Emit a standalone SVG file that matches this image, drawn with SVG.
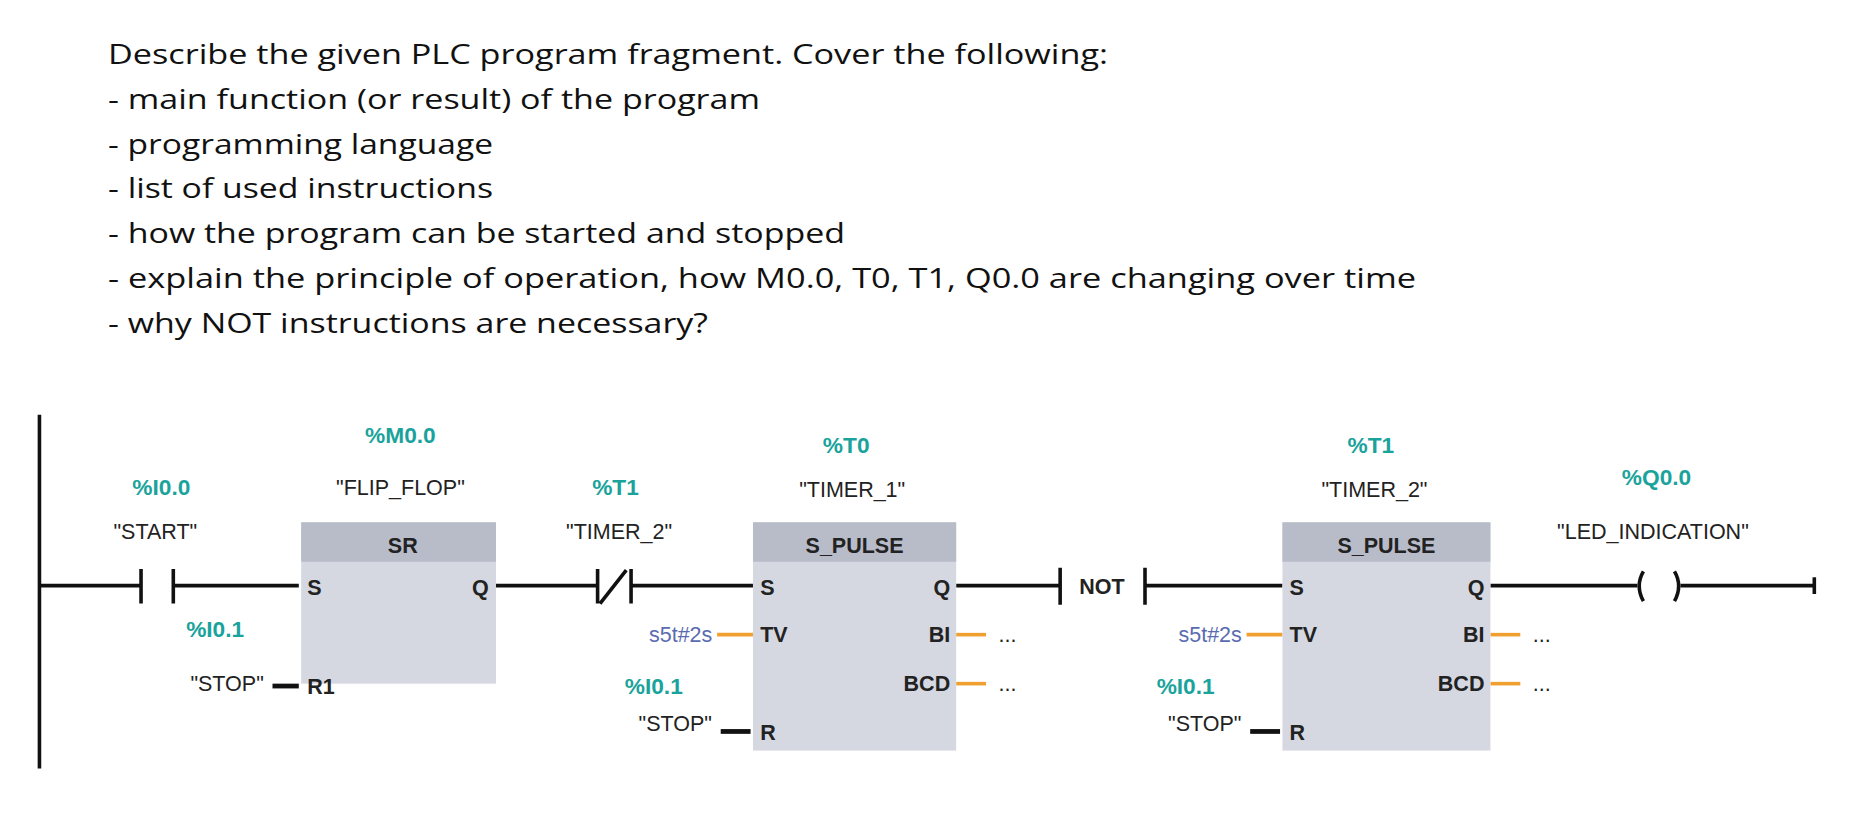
<svg xmlns="http://www.w3.org/2000/svg" width="1874" height="814" viewBox="0 0 1874 814">
<style>
.q{font-family:"Open Sans","Liberation Sans",sans-serif;font-size:27px;fill:#111}
.t{font-family:"Liberation Sans",sans-serif;font-size:19px;fill:#1aa39c;font-weight:bold;text-anchor:middle}
.n{font-family:"Liberation Sans",sans-serif;font-size:18px;fill:#222;text-anchor:middle}
.p{font-family:"Liberation Sans",sans-serif;font-size:18px;fill:#222;font-weight:bold}
.v{font-family:"Liberation Sans",sans-serif;font-size:18px;fill:#5a6bb0;text-anchor:end}
.w{stroke:#111;stroke-width:3;fill:none}
.o{stroke:#f0a030;stroke-width:3}
.box{fill:#d5d8e1}
.hd{fill:#b8bcc9}
</style>
<rect width="1874" height="814" fill="#fff"/>
<g id="question">
<text class="q" x="108" y="64" textLength="1000" lengthAdjust="spacingAndGlyphs">Describe the given PLC program fragment. Cover the following:</text>
<text class="q" x="108" y="109" textLength="652" lengthAdjust="spacingAndGlyphs">- main function (or result) of the program</text>
<text class="q" x="108" y="154" textLength="385" lengthAdjust="spacingAndGlyphs">- programming language</text>
<text class="q" x="108" y="198" textLength="385" lengthAdjust="spacingAndGlyphs">- list of used instructions</text>
<text class="q" x="108" y="243" textLength="737" lengthAdjust="spacingAndGlyphs">- how the program can be started and stopped</text>
<text class="q" x="108" y="288" textLength="1308" lengthAdjust="spacingAndGlyphs">- explain the principle of operation, how M0.0, T0, T1, Q0.0 are changing over time</text>
<text class="q" x="108" y="333" textLength="600" lengthAdjust="spacingAndGlyphs">- why NOT instructions are necessary?</text>
</g>
<g transform="scale(1.1952)">
<g id="connectors">
<line class="w" x1="33" y1="347" x2="33" y2="643"/>
<path class="w" d="M33 490H118M145 490H250M415 490H500M528 490H630M800 490H887M958 490H1073M1247 490H1370M1406 490H1518"/>
<line class="w" x1="1518" y1="483" x2="1518" y2="497"/>
<line x1="228" y1="574" x2="250" y2="574" stroke="#111" stroke-width="4"/>
<line x1="603" y1="612" x2="628" y2="612" stroke="#111" stroke-width="4"/>
<line x1="1046" y1="612" x2="1071" y2="612" stroke="#111" stroke-width="4"/>
<line class="o" x1="600" y1="531" x2="630" y2="531"/>
<line class="o" x1="800" y1="531" x2="825" y2="531"/>
<line class="o" x1="800" y1="572" x2="825" y2="572"/>
<line class="o" x1="1043" y1="531" x2="1073" y2="531"/>
<line class="o" x1="1247" y1="531" x2="1272" y2="531"/>
<line class="o" x1="1247" y1="572" x2="1272" y2="572"/>
</g>
<g id="start">
<path class="w" d="M118 476V505M145 476V505"/>
<text class="t" x="135" y="414">%I0.0</text>
<text class="n" x="130" y="451">"START"</text>
</g>
<g id="sr">
<rect class="box" x="252" y="437" width="163" height="135"/>
<rect class="hd" x="252" y="437" width="163" height="33"/>
<text class="t" x="335" y="371">%M0.0</text>
<text class="n" x="335" y="414">"FLIP_FLOP"</text>
<text class="p" x="337" y="463" text-anchor="middle" font-size="20">SR</text>
<text class="p" x="257" y="498">S</text>
<text class="p" x="395" y="498">Q</text>
<text class="p" x="257" y="581">R1</text>
<text class="t" x="180" y="533">%I0.1</text>
<text class="n" x="190" y="578">"STOP"</text>
</g>
<g id="nc">
<path class="w" d="M500 476V505M528 476V505M502 505L524 477"/>
<text class="t" x="515" y="414">%T1</text>
<text class="n" x="518" y="451">"TIMER_2"</text>
</g>
<g id="timer1">
<rect class="box" x="630" y="437" width="170" height="191"/>
<rect class="hd" x="630" y="437" width="170" height="33"/>
<text class="t" x="708" y="379">%T0</text>
<text class="n" x="713" y="416">"TIMER_1"</text>
<text class="p" x="715" y="463" text-anchor="middle" font-size="20">S_PULSE</text>
<text class="p" x="636" y="498">S</text>
<text class="p" x="636" y="537">TV</text>
<text class="p" x="636" y="619">R</text>
<text class="p" x="795" y="498" text-anchor="end">Q</text>
<text class="p" x="795" y="537" text-anchor="end">BI</text>
<text class="p" x="795" y="578" text-anchor="end">BCD</text>
<text class="v" x="596" y="537">s5t#2s</text>
<text class="t" x="547" y="581">%I0.1</text>
<text class="n" x="565" y="612">"STOP"</text>
<text class="n" x="843" y="537">...</text>
<text class="n" x="843" y="578">...</text>
</g>
<g id="not">
<path class="w" d="M887 475V506M958 475V506"/>
<text class="p" x="922" y="497" text-anchor="middle">NOT</text>
</g>
<g id="timer2">
<rect class="box" x="1073" y="437" width="174" height="191"/>
<rect class="hd" x="1073" y="437" width="174" height="33"/>
<text class="t" x="1147" y="379">%T1</text>
<text class="n" x="1150" y="416">"TIMER_2"</text>
<text class="p" x="1160" y="463" text-anchor="middle" font-size="20">S_PULSE</text>
<text class="p" x="1079" y="498">S</text>
<text class="p" x="1079" y="537">TV</text>
<text class="p" x="1079" y="619">R</text>
<text class="p" x="1242" y="498" text-anchor="end">Q</text>
<text class="p" x="1242" y="537" text-anchor="end">BI</text>
<text class="p" x="1242" y="578" text-anchor="end">BCD</text>
<text class="v" x="1039" y="537">s5t#2s</text>
<text class="t" x="992" y="581">%I0.1</text>
<text class="n" x="1008" y="612">"STOP"</text>
<text class="n" x="1290" y="537">...</text>
<text class="n" x="1290" y="578">...</text>
</g>
<g id="coil">
<path class="w" d="M1375 478Q1368 490 1375 503M1401 478Q1408 490 1401 503"/>
<text class="t" x="1386" y="406">%Q0.0</text>
<text class="n" x="1383" y="451">"LED_INDICATION"</text>
</g>
</g>
</svg>
